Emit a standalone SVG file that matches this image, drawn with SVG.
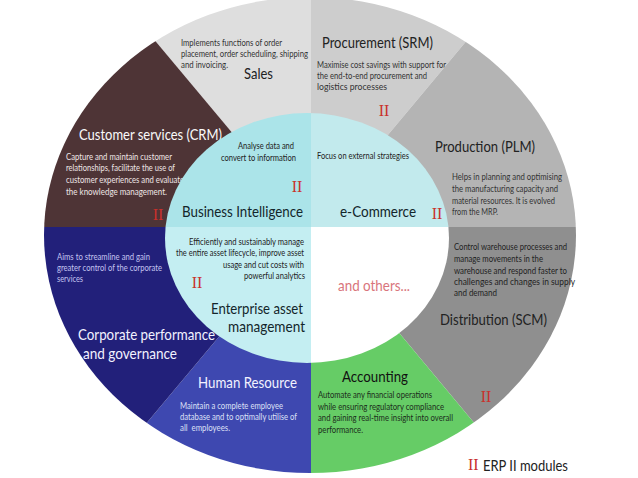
<svg xmlns="http://www.w3.org/2000/svg" width="638" height="478" viewBox="0 0 638 478">
<style>
text{font-family:Lato,"Noto Sans","Liberation Sans",sans-serif;}
.t{font-size:16px;}
.d{font-size:9.5px;}
.r{font-family:"Liberation Serif","DejaVu Serif",serif;font-size:16px;fill:#c9302c;}
.dk{fill:#222;}
.dd{fill:#333;}
.wt{fill:#f2f2ff;}
</style>
<defs>
<clipPath id="outer"><ellipse cx="310" cy="235" rx="266" ry="238"/></clipPath>
<clipPath id="inner"><ellipse cx="307" cy="238" rx="142" ry="125"/></clipPath>
</defs>
<rect width="638" height="478" fill="#ffffff"/>
<g id="sales">
<polygon clip-path="url(#outer)" points="311,227 3,-141 311,-141" fill="#dedede"/>
<text class="d dd" x="181" y="46" textLength="101" lengthAdjust="spacingAndGlyphs">Implements functions of order</text>
<text class="d dd" x="181" y="57" textLength="127" lengthAdjust="spacingAndGlyphs">placement, order scheduling, shipping</text>
<text class="d dd" x="181" y="68" textLength="47" lengthAdjust="spacingAndGlyphs">and invoicing.</text>
<text class="t dk" x="244" y="79" textLength="29" lengthAdjust="spacingAndGlyphs">Sales</text>
</g>
<g id="procurement">
<polygon clip-path="url(#outer)" points="311,227 311,-141 615,-137" fill="#cdcdcd"/>
<text class="t dk" x="322" y="48" textLength="111" lengthAdjust="spacingAndGlyphs">Procurement (SRM)</text>
<text class="d dd" x="317" y="68" textLength="129" lengthAdjust="spacingAndGlyphs">Maximise cost savings with support for</text>
<text class="d dd" x="317" y="79" textLength="110" lengthAdjust="spacingAndGlyphs">the end-to-end procurement and</text>
<text class="d dd" x="317" y="90" textLength="70" lengthAdjust="spacingAndGlyphs">logistics processes</text>
<text class="r" x="470" y="81" text-anchor="middle">II</text>
<text class="r" x="384" y="116" text-anchor="middle">II</text>
</g>
<g id="production">
<polygon clip-path="url(#outer)" points="311,227 615,-137 700,-137 700,227" fill="#b4b4b4"/>
<text class="t dk" x="435" y="152" textLength="100" lengthAdjust="spacingAndGlyphs">Production (PLM)</text>
<text class="d dd" x="452" y="180" textLength="110" lengthAdjust="spacingAndGlyphs">Helps in planning and optimising</text>
<text class="d dd" x="452" y="192" textLength="106" lengthAdjust="spacingAndGlyphs">the manufacturing capacity and</text>
<text class="d dd" x="452" y="204" textLength="103" lengthAdjust="spacingAndGlyphs">material resources. It is evolved</text>
<text class="d dd" x="452" y="215" textLength="46" lengthAdjust="spacingAndGlyphs">from the MRP.</text>
</g>
<g id="distribution">
<polygon clip-path="url(#outer)" points="311,227 700,227 700,621 639,621" fill="#8f8f8f"/>
<text class="d dk" x="454" y="250" textLength="113" lengthAdjust="spacingAndGlyphs">Control warehouse processes and</text>
<text class="d dk" x="454" y="262" textLength="89" lengthAdjust="spacingAndGlyphs">manage movements in the</text>
<text class="d dk" x="454" y="274" textLength="113" lengthAdjust="spacingAndGlyphs">warehouse and respond faster to</text>
<text class="d dk" x="454" y="285" textLength="121" lengthAdjust="spacingAndGlyphs">challenges and changes in supply</text>
<text class="d dk" x="454" y="296" textLength="43" lengthAdjust="spacingAndGlyphs">and demand</text>
<text class="t dk" x="440" y="325" textLength="107" lengthAdjust="spacingAndGlyphs">Distribution (SCM)</text>
<text class="r" x="486" y="402" text-anchor="middle">II</text>
</g>
<g id="accounting">
<polygon clip-path="url(#outer)" points="311,227 639,621 311,621" fill="#66cc66"/>
<text class="t" x="342" y="382" fill="#111" textLength="66" lengthAdjust="spacingAndGlyphs">Accounting</text>
<text class="d" x="318" y="398" fill="#1c2e1c" textLength="114" lengthAdjust="spacingAndGlyphs">Automate any financial operations</text>
<text class="d" x="318" y="410" fill="#1c2e1c" textLength="126" lengthAdjust="spacingAndGlyphs">while ensuring regulatory compliance</text>
<text class="d" x="318" y="421" fill="#1c2e1c" textLength="135" lengthAdjust="spacingAndGlyphs">and gaining real-time insight into overall</text>
<text class="d" x="318" y="433" fill="#1c2e1c" textLength="45" lengthAdjust="spacingAndGlyphs">performance.</text>
</g>
<g id="human-resource">
<polygon clip-path="url(#outer)" points="311,227 311,621 -21,623" fill="#3e48b0"/>
<text class="t wt" x="198" y="388" textLength="99" lengthAdjust="spacingAndGlyphs">Human Resource</text>
<text class="d" x="180" y="409" fill="#dde0f6" textLength="103" lengthAdjust="spacingAndGlyphs">Maintain a complete employee</text>
<text class="d" x="180" y="420" fill="#dde0f6" textLength="117" lengthAdjust="spacingAndGlyphs">database and to optimally utilise of</text>
<text class="d" x="180" y="431" fill="#dde0f6" textLength="50" lengthAdjust="spacingAndGlyphs" xml:space="preserve">all  employees.</text>
</g>
<g id="corporate">
<polygon clip-path="url(#outer)" points="311,227 -21,623 -60,623 -60,227" fill="#22207a"/>
<text class="d" x="57" y="260" fill="#c4c4f0" textLength="93" lengthAdjust="spacingAndGlyphs">Aims to streamline and gain</text>
<text class="d" x="57" y="271" fill="#c4c4f0" textLength="105" lengthAdjust="spacingAndGlyphs">greater control of the corporate</text>
<text class="d" x="57" y="282" fill="#c4c4f0" textLength="26" lengthAdjust="spacingAndGlyphs">services</text>
<text class="t wt" x="78" y="340" textLength="137" lengthAdjust="spacingAndGlyphs">Corporate performance</text>
<text class="t wt" x="83" y="359" textLength="94" lengthAdjust="spacingAndGlyphs">and governance</text>
</g>
<g id="crm">
<polygon clip-path="url(#outer)" points="311,227 -60,227 -60,-141 3,-141" fill="#4e3436"/>
<text class="t" x="79" y="140" fill="#fafafa" textLength="143" lengthAdjust="spacingAndGlyphs">Customer services (CRM)</text>
<text class="d" x="66" y="160" fill="#eee6e6" textLength="106" lengthAdjust="spacingAndGlyphs">Capture and maintain customer</text>
<text class="d" x="66" y="171" fill="#eee6e6" textLength="109" lengthAdjust="spacingAndGlyphs">relationships, facilitate the use of</text>
<text class="d" x="66" y="183" fill="#eee6e6" textLength="118" lengthAdjust="spacingAndGlyphs">customer experiences and evaluate</text>
<text class="d" x="66" y="195" fill="#eee6e6" textLength="101" lengthAdjust="spacingAndGlyphs">the knowledge management.</text>
<text class="r" x="158" y="220" text-anchor="middle">II</text>
</g>
<g id="business-intelligence">
<rect clip-path="url(#inner)" x="150" y="100" width="161" height="127" fill="#abe4e9"/>
<text class="d dk" x="266" y="149" text-anchor="middle" textLength="56" lengthAdjust="spacingAndGlyphs">Analyse data and</text>
<text class="d dk" x="258.5" y="161" text-anchor="middle" textLength="75" lengthAdjust="spacingAndGlyphs">convert to information</text>
<text class="r" x="297" y="192" text-anchor="middle">II</text>
<text class="t" x="182" y="217" fill="#13262b" textLength="121" lengthAdjust="spacingAndGlyphs">Business Intelligence</text>
</g>
<g id="e-commerce">
<rect clip-path="url(#inner)" x="311" y="100" width="150" height="127" fill="#c2eaed"/>
<text class="d dk" x="317" y="159" textLength="92" lengthAdjust="spacingAndGlyphs">Focus on external strategies</text>
<text class="t" x="340" y="217" fill="#13262b" textLength="76" lengthAdjust="spacingAndGlyphs">e-Commerce</text>
<text class="r" x="437" y="219" text-anchor="middle">II</text>
</g>
<g id="enterprise-asset-management">
<rect clip-path="url(#inner)" x="150" y="227" width="161" height="150" fill="#c4eef2"/>
<text class="d dk" x="304" y="245" text-anchor="end" textLength="115" lengthAdjust="spacingAndGlyphs">Efficiently and sustainably manage</text>
<text class="d dk" x="304" y="256" text-anchor="end" textLength="128" lengthAdjust="spacingAndGlyphs">the entire asset lifecycle, improve asset</text>
<text class="d dk" x="304" y="268" text-anchor="end" textLength="81" lengthAdjust="spacingAndGlyphs">usage and cut costs with</text>
<text class="d dk" x="305" y="279" text-anchor="end" textLength="61" lengthAdjust="spacingAndGlyphs">powerful analytics</text>
<text class="r" x="197" y="288" text-anchor="middle">II</text>
<text class="t" x="211" y="314" fill="#13262b" textLength="92" lengthAdjust="spacingAndGlyphs">Enterprise asset</text>
<text class="t" x="228" y="332" fill="#13262b" textLength="77" lengthAdjust="spacingAndGlyphs">management</text>
</g>
<g id="others">
<rect clip-path="url(#inner)" x="311" y="227" width="150" height="150" fill="#ffffff"/>
<text class="t" x="338" y="291" fill="#d9757c" textLength="72" lengthAdjust="spacingAndGlyphs">and others...</text>
</g>
<g id="connectors"></g>
<g id="legend">
<text class="r" x="468" y="470">II</text>
<text class="t" x="483" y="471" fill="#222" textLength="85" lengthAdjust="spacingAndGlyphs">ERP II modules</text>
</g>
</svg>
